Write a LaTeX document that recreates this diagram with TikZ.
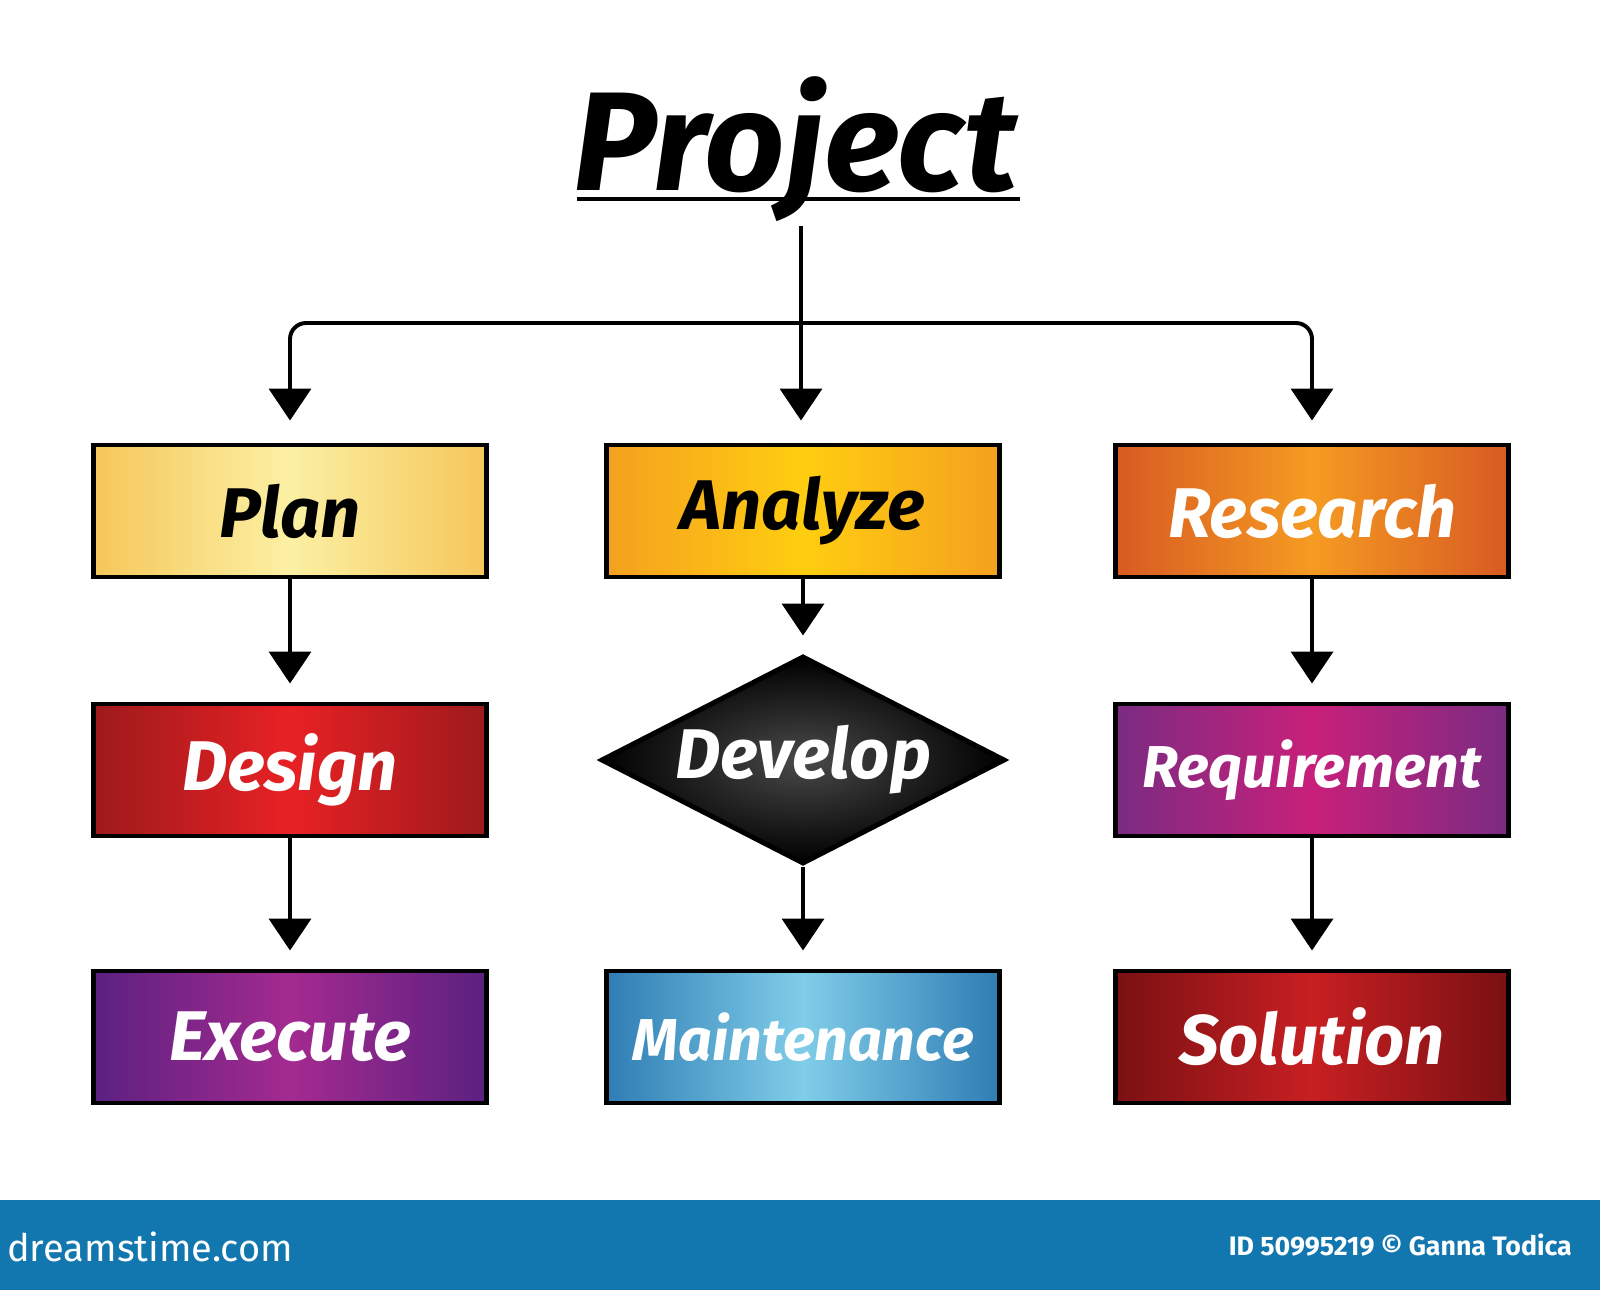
\documentclass[tikz,border=0pt]{standalone}
\usepackage{fontspec}
\setmainfont{Fira Sans}
\usetikzlibrary{arrows.meta,shapes.geometric}
\definecolor{planedge}{HTML}{F6C75A}
\definecolor{planmid}{HTML}{FBF0A4}
\definecolor{anaedge}{HTML}{F5A020}
\definecolor{anamid}{HTML}{FFCE10}
\definecolor{resedge}{HTML}{D85A22}
\definecolor{resmid}{HTML}{F59B22}
\definecolor{desedge}{HTML}{9E1A1C}
\definecolor{desmid}{HTML}{E82124}
\definecolor{devmid}{HTML}{4A4A4A}
\definecolor{reqedge}{HTML}{7B2B82}
\definecolor{reqmid}{HTML}{C8207A}
\definecolor{exeedge}{HTML}{5B2180}
\definecolor{exemid}{HTML}{A42A90}
\definecolor{maiedge}{HTML}{2F7DB4}
\definecolor{maimid}{HTML}{80CDE9}
\definecolor{soledge}{HTML}{7A1113}
\definecolor{solmid}{HTML}{C81F22}
\definecolor{footblue}{HTML}{1277AF}
\begin{document}
\begin{tikzpicture}[x=0.025cm,y=-0.025cm,
    hand/.style={font=\fontsize{50}{60}\selectfont\bfseries\itshape},
    longhand/.style={font=\fontsize{42}{50}\selectfont\bfseries\itshape},
    card/.style={rectangle,draw,line width=3.5pt,minimum width=9.8cm,minimum height=3.3cm,inner sep=0pt,hand},
    link/.style={line width=2.8pt,-{Triangle[length=0.8cm,width=1.05cm]},shorten >=0.45cm}]
  \useasboundingbox (0,0) rectangle (1600,1290);
  \draw node (title) at(795,190) [anchor=base,font=\fontsize{100}{110}\selectfont\bfseries\itshape] {Project};
  \draw[line width=2.8pt] (577,199) -- (1020,199);
  \draw node (plan) at(290,511) [card,left color=planedge,right color=planedge,middle color=planmid] {Plan}
        node (analyze) at(803,511) [card,left color=anaedge,right color=anaedge,middle color=anamid] {Analyze}
        node (research) at(1312,511) [card,left color=resedge,right color=resedge,middle color=resmid,text=white] {Research}
        node (design) at(290,770) [card,left color=desedge,right color=desedge,middle color=desmid,text=white] {Design}
        node (develop) at(803,760) [diamond,draw,line width=3.5pt,aspect=2,minimum width=10.1cm,minimum height=5.2cm,inner sep=0pt,
                                    inner color=devmid,outer color=black,text=white,hand] {Develop}
        node (requirement) at(1312,770) [card,longhand,left color=reqedge,right color=reqedge,middle color=reqmid,text=white] {Requirement}
        node (execute) at(290,1037) [card,left color=exeedge,right color=exeedge,middle color=exemid,text=white] {Execute}
        node (maintenance) at(803,1037) [card,longhand,left color=maiedge,right color=maiedge,middle color=maimid,text=white] {Maintenance}
        node (solution) at(1312,1037) [card,left color=soledge,right color=soledge,middle color=solmid,text=white] {Solution};
  % branches from the title
  \coordinate (stem) at(801,226);
  \coordinate (hub) at(801,323);
  \draw[link,shorten >=0.55cm] (stem) -- (analyze.north -| stem);
  \draw[link,shorten >=0.55cm,rounded corners=0.4cm] (hub) -| (plan);
  \draw[link,shorten >=0.55cm,rounded corners=0.4cm] (hub) -| (research);
  % columns
  \draw[link] (plan) -- (design);
  \draw[link] (design) -- (execute);
  \draw[link] (analyze) -- (develop);
  \draw[link] (develop) -- (maintenance);
  \draw[link] (research) -- (requirement);
  \draw[link] (requirement) -- (solution);
  % footer
  \fill[footblue] (0,1200) rectangle (1600,1290);
  \draw node (site) at(7,1247) [anchor=west,inner sep=0pt,text=white,font=\fontsize{27}{30}\selectfont] {dreamstime.com}
        node (credit) at(1572,1245) [anchor=east,inner sep=0pt,text=white,font=\fontsize{19}{22}\selectfont\bfseries] {ID 50995219 © Ganna Todica};
\end{tikzpicture}
\end{document}
